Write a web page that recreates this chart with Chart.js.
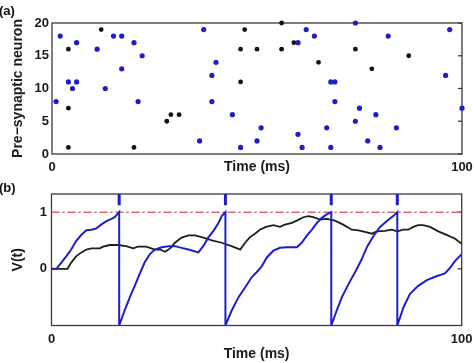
<!DOCTYPE html>
<html>
<head>
<meta charset="utf-8">
<script src="https://cdn.jsdelivr.net/npm/chart.js@4.4.1/dist/chart.umd.min.js"></script>
<style>
  html, body { margin: 0; padding: 0; background: #fff; }
  #wrap { position: relative; width: 474px; height: 363px; overflow: hidden; font-family: "Liberation Sans", Arial, sans-serif; }
  canvas { position: absolute; left: 0; }
  #rasterChart { top: 0; }
  #voltChart { top: 180px; }
  .panel { position: absolute; left: -1px; font-weight: bold; font-size: 13px; line-height: 15px; color: #111; }
</style>
</head>
<body>
<div id="wrap">
  <canvas id="rasterChart" width="474" height="180"></canvas>
  <canvas id="voltChart" width="474" height="183"></canvas>
  <div class="panel" style="top:3px">(a)</div>
  <div class="panel" style="top:180px">(b)</div>
</div>
<script>
// ---- panel (a): input spikes, [time (ms), pre-synaptic neuron] ----
const blackSpikes = [
  [4, 16], [4, 7], [4, 1], [12, 19], [20, 1], [28, 5], [29, 6], [31, 6],
  [46, 16], [46, 11], [47, 19], [50, 16], [56, 20], [56, 16], [59, 17],
  [65, 14], [74, 16], [78, 13], [87, 15],
];
const blueSpikes = [
  [1, 8], [2, 18], [4, 11], [5, 10], [6, 11], [6, 17], [11, 16], [13, 10],
  [15, 18], [17, 18], [17, 13], [20, 17], [21, 8], [22, 15], [36, 2], [37, 19],
  [39, 12], [39, 8], [40, 14], [44, 6], [46, 1], [50, 2], [51, 4], [60, 17],
  [60, 3], [61, 1], [62, 19], [64, 18], [67, 4], [68, 11], [68, 1], [69, 11],
  [69, 8], [74, 20], [74, 5], [75, 7], [77, 2], [79, 6], [80, 1], [82, 18],
  [84, 4], [96, 12], [97, 19], [100, 7],
];
const neuronTicks = [0, 5, 10, 15, 20];
const timeTicks = [0, 100];

// ---- panel (b): membrane potential V(t) ----
const blueTime = [
  0, 1.2, 2.4, 3.6, 4.8, 6.0, 7.3, 8.5, 9.7, 10.9, 12.1, 13.4, 14.6, 15.4, 16.5,
  16.5, 17.8, 19.1, 20.3, 21.5, 22.7, 24.0, 25.2, 26.9, 28.5, 30.1, 31.7, 33.4, 35.8, 37.0, 38.2, 39.5, 40.7, 41.5, 42.4,
  42.4, 43.9, 45.6, 47.2, 48.8, 50.0, 51.2, 52.5, 54.1, 55.7, 57.4, 59.8, 61.0, 62.2, 63.5, 64.7, 65.9, 67.1, 68.2,
  68.2, 69.5, 70.8, 72.4, 74.0, 75.5, 77.0, 78.5, 80.1, 81.7, 83.3, 84.3,
  84.3, 85.8, 87.4, 89.4, 91.5, 93.5, 95.9, 97.2, 98.4, 100,
];
const blueV = [
  0, 0, 0.11, 0.22, 0.34, 0.49, 0.60, 0.68, 0.69, 0.71, 0.78, 0.84, 0.88, 0.91, 1.0,
  -1, -0.74, -0.50, -0.30, -0.09, 0.11, 0.26, 0.34, 0.38, 0.40, 0.40, 0.37, 0.34, 0.29, 0.40, 0.55, 0.67, 0.81, 0.93, 1.0,
  -1, -0.74, -0.50, -0.33, -0.15, -0.06, 0.04, 0.20, 0.32, 0.37, 0.38, 0.38, 0.46, 0.58, 0.69, 0.81, 0.90, 0.96, 1.0,
  -1, -0.74, -0.50, -0.27, -0.06, 0.15, 0.40, 0.58, 0.74, 0.84, 0.93, 1.0,
  -1, -0.68, -0.44, -0.30, -0.20, -0.14, -0.08, 0.02, 0.14, 0.26,
];
const blackTime = [
  0, 3.9, 4.8, 6.0, 7.3, 8.5, 9.7, 11.8, 12.6, 14.2, 16.2, 18.2, 19.9, 21.1, 23.1,
  25.2, 26.5, 27.7, 28.9, 30.1, 31.7, 33.4, 35.0, 36.6, 39.1, 41.5, 43.9, 46.0,
  47.2, 48.4, 49.6, 50.8, 52.3, 54.1, 55.7, 56.9, 58.6, 59.8, 61.4, 62.6, 63.8,
  65.5, 67.1, 69.1, 71.1, 73.2, 74.8, 76.4, 78.1, 79.3, 81.3, 82.9, 84.3, 85.8,
  87.0, 88.2, 89.4, 90.6, 92.3, 94.3, 96.3, 98.4, 100,
];
const blackV = [
  0, 0, 0.11, 0.22, 0.29, 0.34, 0.36, 0.36, 0.39, 0.42, 0.42, 0.40, 0.36, 0.39, 0.39,
  0.34, 0.34, 0.30, 0.36, 0.46, 0.55, 0.59, 0.59, 0.56, 0.50, 0.46, 0.40, 0.34,
  0.46, 0.56, 0.62, 0.69, 0.74, 0.77, 0.74, 0.78, 0.81, 0.85, 0.91, 0.93, 0.91,
  0.87, 0.88, 0.85, 0.78, 0.69, 0.68, 0.65, 0.62, 0.66, 0.67, 0.69, 0.66, 0.69,
  0.69, 0.74, 0.77, 0.77, 0.74, 0.66, 0.60, 0.53, 0.44,
];
const outSpikeTimes = [16.5, 42.4, 68.2, 84.3];
const threshold = 1;
const vTicks = [0, 1];
const vMin = -1, vMax = 1.32;
const spikeMarkFrom = 1.12;   // output spike marks run from here to the top

const FONT = "'Liberation Sans', Arial, sans-serif";
const INK = "#1a1a1a";
const BLUE = "#1e1ec8";
const tickFont = { family: FONT, size: 13, weight: "bold" };
const titleFont = { family: FONT, size: 14, weight: "bold" };

const toPts = (xs, ys) => xs.map((x, i) => ({ x, y: ys[i] }));
const pairPts = (arr) => arr.map(([x, y]) => ({ x, y }));
const fixedTicks = (vals) => (s) => { s.ticks = vals.map((v) => ({ value: v })); };

// box around the plot + short inward ticks on the right edge
const framePlugin = {
  id: "frame",
  beforeDatasetsDraw(chart) {
    const { ctx, chartArea: a, scales } = chart;
    ctx.save();
    ctx.strokeStyle = "#3a3a3a";
    ctx.lineWidth = 1.3;
    ctx.strokeRect(a.left, a.top, a.right - a.left, a.bottom - a.top);
    for (const t of scales.y.ticks) {
      const y = scales.y.getPixelForValue(t.value);
      ctx.beginPath();
      ctx.moveTo(a.right - 4, y);
      ctx.lineTo(a.right, y);
      ctx.stroke();
    }
    ctx.restore();
  },
};

function xAxis(height, pad) {
  return {
    type: "linear", min: 0, max: 100,
    afterBuildTicks: fixedTicks(timeTicks),
    grid: { display: false, drawTicks: false },
    border: { display: false },
    ticks: { font: tickFont, color: INK, padding: pad, maxRotation: 0 },
    title: { display: true, text: "Time (ms)", font: titleFont, color: INK, padding: 0 },
    afterFit: (s) => { s.height = height; s.paddingLeft = 0; s.paddingRight = 0; },
  };
}

function yAxis(min, max, ticks, width, pad, text) {
  return {
    type: "linear", min, max,
    afterBuildTicks: fixedTicks(ticks),
    grid: { display: false, drawTicks: false },
    border: { display: false },
    ticks: { font: tickFont, color: INK, padding: pad },
    title: { display: true, text, font: titleFont, color: INK, padding: { top: 10, bottom: 0 } },
    afterFit: (s) => { s.width = width; s.paddingTop = 0; s.paddingBottom = 0; },
  };
}

const common = {
  responsive: false,
  animation: false,
  events: [],
  plugins: { legend: { display: false }, tooltip: { enabled: false } },
};

// (a) raster
new Chart(document.getElementById("rasterChart"), {
  type: "scatter",
  data: {
    datasets: [
      { data: pairPts(blueSpikes), backgroundColor: BLUE, pointRadius: 2.6, borderWidth: 0, clip: false },
      { data: pairPts(blackSpikes), backgroundColor: "#111", pointRadius: 2.4, borderWidth: 0, clip: false },
    ],
  },
  options: {
    ...common,
    layout: { padding: { top: 23, right: 12, bottom: 4, left: 0 } },
    scales: {
      x: xAxis(22, 6),
      y: yAxis(0, 20, neuronTicks, 52, 3, "Pre\u2212synaptic neuron"),
    },
  },
  plugins: [framePlugin],
});

// (b) V(t)
const spikeMarks = [];
for (const t of outSpikeTimes) {
  spikeMarks.push({ x: t, y: spikeMarkFrom }, { x: t, y: vMax }, { x: t, y: null });
}

new Chart(document.getElementById("voltChart"), {
  type: "line",
  data: {
    datasets: [
      { data: spikeMarks, borderColor: BLUE, borderWidth: 3, pointRadius: 0, spanGaps: false },
      { data: toPts(blueTime, blueV), borderColor: BLUE, borderWidth: 2, pointRadius: 0, tension: 0 },
      { data: toPts(blackTime, blackV), borderColor: "#14231a", borderWidth: 1.8, pointRadius: 0, tension: 0 },
      { data: [{ x: 0, y: threshold }, { x: 100, y: threshold }], borderColor: "#d26a6a",
        borderWidth: 1.5, borderDash: [8, 3, 2, 3], pointRadius: 0 },
    ],
  },
  options: {
    ...common,
    layout: { padding: { top: 14, right: 12.3, bottom: 0, left: 0 } },
    scales: {
      x: xAxis(37.5, 6),
      y: yAxis(vMin, vMax, vTicks, 51.5, 4.5, "V(t)"),
    },
  },
  plugins: [framePlugin],
});
</script>
</body>
</html>
